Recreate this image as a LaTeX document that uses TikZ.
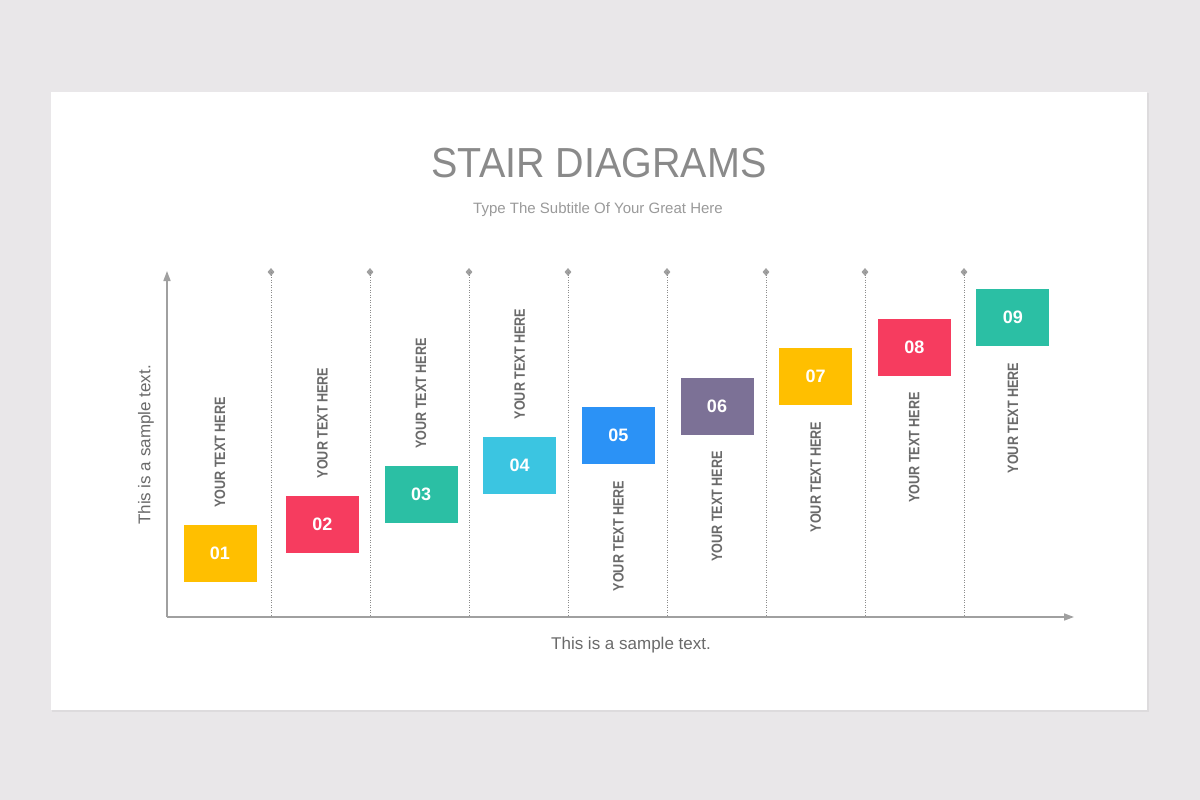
\documentclass[tikz,border=0pt]{standalone}
\usepackage{fontspec}
\setmainfont{Liberation Sans}
\newfontfamily\condfont[FakeStretch=0.84]{Liberation Sans}
\newfontfamily\titlefont[FakeStretch=0.94]{Liberation Sans}
\usetikzlibrary{arrows.meta,shapes.geometric}
\definecolor{bgc}{HTML}{E9E7E9}
\definecolor{shadowc}{HTML}{DDDBDD}
\definecolor{titlec}{HTML}{8A8A8A}
\definecolor{subc}{HTML}{9A9A9A}
\definecolor{axisc}{HTML}{A0A0A0}
\definecolor{dotc}{HTML}{8C8C8C}
\definecolor{labc}{HTML}{6A6A6A}
\definecolor{cyellow}{HTML}{FFBF00}
\definecolor{cpink}{HTML}{F63C5F}
\definecolor{cteal}{HTML}{2BBFA4}
\definecolor{clblue}{HTML}{3BC5E1}
\definecolor{cblue}{HTML}{2B92F6}
\definecolor{cpurple}{HTML}{7C7196}
\tikzset{
  stepbox/.style={minimum width=73pt,minimum height=57pt,inner sep=0pt,anchor=north west,
    text=white,font=\bfseries\fontsize{18}{18}\selectfont},
  steplabel/.style={rotate=90,inner sep=0pt,text=labc,font=\condfont\bfseries\fontsize{15}{15}\selectfont},
  axisline/.style={draw=axisc,line width=1.6pt,-{Triangle[length=10pt,width=7pt]}},
  guide/.style={draw=dotc,line width=0.9pt,dash pattern=on 0.9pt off 1.6pt},
  tipmark/.style={diamond,fill=axisc,inner sep=0pt,minimum width=7pt,minimum height=8pt},
  axislabel/.style={text=labc,inner sep=0pt,font=\fontsize{17}{17}\selectfont}
}
\begin{document}
\begin{tikzpicture}[x=1pt,y=-1pt]
\useasboundingbox (0,0) rectangle (1200,800);
\fill[bgc] (0,0) rectangle (1200,800);
\fill[shadowc] (52,93) rectangle (1149,712);
\fill[white] (51,92) rectangle (1147,710);

\node[text=titlec,inner sep=0pt,font=\titlefont\fontsize{42}{42}\selectfont] (title) at (599,163) {STAIR DIAGRAMS};
\node[text=subc,inner sep=0pt,anchor=base,font=\fontsize{15}{15}\selectfont] (subtitle) at (598,213) {Type The Subtitle Of Your Great Here};

% axes
\coordinate (origin) at (167,617);
\coordinate (ytip) at (167,271);
\coordinate (xtip) at (1074,617);
% dotted guides
\foreach \i in {1,...,8} {
  \coordinate (gb\i) at ({271+99*(\i-1)},617);
  \node[tipmark] (gt\i) at ({271+99*(\i-1)},272) {};
  \draw[guide] (gt\i.center) -- (gb\i);
}
\draw[axisline] (origin) -- (ytip);
\draw[axisline] (origin) -- (xtip);

\node[axislabel,anchor=base] (xlab) at (631,649.3) {This is a sample text.};
\node[axislabel,rotate=90] (ylab) at (146,445) {This is a sample text.};

% boxes
\node[stepbox,fill=cyellow] (b1) at (183.3,525) {01};
\foreach \i/\c in {2/cpink,3/cteal,4/clblue,5/cblue,6/cpurple,7/cyellow,8/cpink,9/cteal} {
  \node[stepbox,fill=\c] (b\i) at ({285.7+98.65*(\i-2)},{525-29.5*(\i-1)}) {0\i};
}
\foreach \i in {1,...,4} {
  \node[steplabel,anchor=west] (l\i) at ([yshift=17pt]b\i.north) {YOUR TEXT HERE};
}
\foreach \i in {5,...,9} {
  \node[steplabel,anchor=east] (l\i) at ([yshift=-16pt]b\i.south) {YOUR TEXT HERE};
}
\end{tikzpicture}
\end{document}
